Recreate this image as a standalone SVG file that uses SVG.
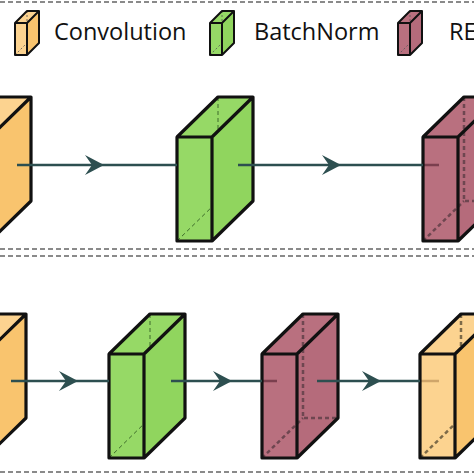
<svg xmlns="http://www.w3.org/2000/svg" width="474" height="474" viewBox="0 0 474 474">
<style>
.sep{stroke:#8a8a8a;stroke-width:2;stroke-dasharray:5 3;fill:none}
.edge{stroke:#111;stroke-width:3.2;stroke-linejoin:round;fill:none}
.iedge{stroke:#111;stroke-width:2;stroke-linejoin:round;fill:none}
.o{fill:#fcd390}.os{fill:#f9c46e}
.g{fill:#96d966}.gs{fill:#90d55e}
.r{fill:#b9707f}.rs{fill:#b56b7b}
.hg{stroke:#3d6b2a;stroke-width:1;stroke-dasharray:4 3;fill:none}
.hr{stroke:#6e4650;stroke-width:2.5;stroke-dasharray:4 3;fill:none}
.ho{stroke:#7d6a48;stroke-width:2.5;stroke-dasharray:4 3;fill:none}
.hi{stroke:#555;stroke-width:0.8;stroke-dasharray:2 2;fill:none}
.conn{stroke:#2d4f50;stroke-width:2.5;fill:none}
.head{fill:#2d4f50}
.lbl{font-family:"Open Sans","Liberation Sans",sans-serif;font-size:23.5px;fill:#111}
</style>

<!-- separators -->
<g id="separators">
<line class="sep" x1="0" y1="2" x2="474" y2="2"/>
<line class="sep" x1="0" y1="249" x2="474" y2="249"/>
<line class="sep" x1="0" y1="256" x2="474" y2="256"/>
<line class="sep" x1="0" y1="472" x2="474" y2="472"/>
</g>

<!-- legend -->
<g id="legend-conv">
<polygon class="o" points="15,23 27,23 39,11 27,11"/>
<rect class="o" x="15" y="23" width="12" height="32"/>
<path class="hi" d="M27,11 V43 H39 M15,55 L27,43"/>
<polygon class="os" points="27,23 39,11 39,43 27,55"/>
<path class="iedge" d="M15,23 H27 V55 H15 Z M15,23 L27,11 H39 L27,23 M39,11 V43 L27,55"/>
<text class="lbl" x="54" y="40">Convolution</text>
</g>
<g id="legend-bn">
<polygon class="g" points="210,23 222,23 234,11 222,11"/>
<rect class="g" x="210" y="23" width="12" height="32"/>
<path class="hi" d="M222,11 V43 H234 M210,55 L222,43"/>
<polygon class="gs" points="222,23 234,11 234,43 222,55"/>
<path class="iedge" d="M210,23 H222 V55 H210 Z M210,23 L222,11 H234 L222,23 M234,11 V43 L222,55"/>
<text class="lbl" x="254" y="40">BatchNorm</text>
</g>
<g id="legend-relu">
<polygon class="r" points="398,23 410,23 422,11 410,11"/>
<rect class="r" x="398" y="23" width="12" height="32"/>
<path class="hi" d="M410,11 V43 H422 M398,55 L410,43"/>
<polygon class="rs" points="410,23 422,11 422,43 410,55"/>
<path class="iedge" d="M398,23 H410 V55 H398 Z M398,23 L410,11 H422 L410,23 M422,11 V43 L410,55"/>
<text class="lbl" x="449" y="40">RE</text>
</g>

<!-- top row -->
<g id="t-conv" transform="translate(-45,137)">
<polygon class="o" points="0,0 35,0 76,-40 41,-40"/>
<rect class="o" x="0" y="0" width="35" height="104"/>
<polygon class="os" points="35,0 76,-40 76,64 35,104"/>
<path class="edge" d="M0,0 H35 V104 H0 Z M0,0 L41,-40 H76 L35,0 M76,-40 V64 L35,104"/>
</g>
<g id="t-bn" transform="translate(177,137)">
<polygon class="g" points="0,0 35,0 76,-40 41,-40"/>
<rect class="g" x="0" y="0" width="35" height="104"/>
<path class="hg" d="M41,-40 V64 H76 M0,104 L41,64"/>
<polygon class="gs" points="35,0 76,-40 76,64 35,104"/>
<path class="edge" d="M0,0 H35 V104 H0 Z M0,0 L41,-40 H76 L35,0 M76,-40 V64 L35,104"/>
</g>
<g id="t-relu" transform="translate(423,137)">
<polygon class="r" points="0,0 35,0 76,-40 41,-40"/>
<rect class="r" x="0" y="0" width="35" height="104"/>
<line x1="0" y1="28" x2="16" y2="28" stroke="#7a3f4e" stroke-width="2.5"/>
<polygon class="rs" points="35,0 76,-40 76,64 35,104"/>
<path class="hr" d="M41,-40 V64 H76 M0,104 L41,64"/>
<path class="edge" d="M0,0 H35 V104 H0 Z M0,0 L41,-40 H76 L35,0 M76,-40 V64 L35,104"/>
</g>

<!-- bottom row -->
<g id="b-conv" transform="translate(-50,354)">
<polygon class="o" points="0,0 35,0 76,-40 41,-40"/>
<rect class="o" x="0" y="0" width="35" height="104"/>
<polygon class="os" points="35,0 76,-40 76,64 35,104"/>
<path class="edge" d="M0,0 H35 V104 H0 Z M0,0 L41,-40 H76 L35,0 M76,-40 V64 L35,104"/>
</g>
<g id="b-bn" transform="translate(109,354)">
<polygon class="g" points="0,0 35,0 76,-40 41,-40"/>
<rect class="g" x="0" y="0" width="35" height="104"/>
<path class="hg" d="M41,-40 V64 H76 M0,104 L41,64"/>
<polygon class="gs" points="35,0 76,-40 76,64 35,104"/>
<path class="edge" d="M0,0 H35 V104 H0 Z M0,0 L41,-40 H76 L35,0 M76,-40 V64 L35,104"/>
</g>
<g id="b-relu" transform="translate(262,354)">
<polygon class="r" points="0,0 35,0 76,-40 41,-40"/>
<rect class="r" x="0" y="0" width="35" height="104"/>
<line x1="0" y1="27" x2="15" y2="27" stroke="#7a3f4e" stroke-width="2.5"/>
<polygon class="rs" points="35,0 76,-40 76,64 35,104"/>
<path class="hr" d="M41,-40 V64 H76 M0,104 L41,64"/>
<path class="edge" d="M0,0 H35 V104 H0 Z M0,0 L41,-40 H76 L35,0 M76,-40 V64 L35,104"/>
</g>
<g id="b-conv2" transform="translate(420,354)">
<polygon class="o" points="0,0 35,0 76,-40 41,-40"/>
<rect class="o" x="0" y="0" width="35" height="104"/>
<line x1="0" y1="27" x2="19" y2="27" stroke="#cfa56a" stroke-width="2.5"/>
<path class="ho" d="M41,-40 V64 H76 M0,104 L41,64"/>
<polygon class="os" points="35,0 76,-40 76,64 35,104"/>
<path class="edge" d="M0,0 H35 V104 H0 Z M0,0 L41,-40 H76 L35,0 M76,-40 V64 L35,104"/>
</g>

<!-- connectors -->
<g id="connectors">
<line class="conn" x1="17" y1="165" x2="177" y2="165"/>
<path class="head" d="M104,165 L85,155 L92,165 L85,175 Z"/>
<line class="conn" x1="238" y1="165" x2="423" y2="165"/>
<path class="head" d="M341,165 L322,155 L329,165 L322,175 Z"/>
<line class="conn" x1="11" y1="381" x2="109" y2="381"/>
<path class="head" d="M78,381 L59,371 L66,381 L59,391 Z"/>
<line class="conn" x1="171" y1="381" x2="262" y2="381"/>
<path class="head" d="M232,381 L213,371 L220,381 L213,391 Z"/>
<line class="conn" x1="317" y1="381" x2="420" y2="381"/>
<path class="head" d="M381,381 L362,371 L369,381 L362,391 Z"/>
</g>
</svg>
